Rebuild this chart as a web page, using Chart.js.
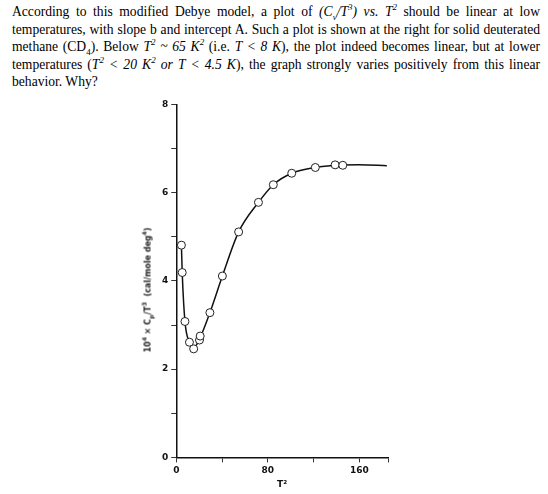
<!DOCTYPE html>
<html><head><meta charset="utf-8">
<script src="https://cdn.jsdelivr.net/npm/chart.js@4"></script>
<style>
body{margin:0;background:#fff;width:548px;height:494px;overflow:hidden;position:relative}
#txt{position:absolute;left:12px;top:3px;width:528px;font-family:"Liberation Serif",serif;font-size:13.6px;line-height:17.6px;text-align:justify;color:#000}
#txt sub,#txt sup{font-size:9px;line-height:0}
#wrap{position:absolute;left:100px;top:96px;width:300px;height:398px}
#ylab{position:absolute;left:148px;top:290px;transform:translate(-50%,-50%) rotate(-90deg);font:bold 8px "DejaVu Sans",sans-serif;white-space:nowrap;color:#222}
#ylab sub,#ylab sup{font-size:6px;line-height:0}
</style></head><body>
<div id="txt">According to this modified Debye model, a plot of <i>(C<sub>v</sub>/T<sup>3</sup>) vs. T<sup>2</sup></i> should be linear at low temperatures, with slope b and intercept A. Such a plot is shown at the right for solid deuterated methane (CD<sub>4</sub>). Below <i>T<sup>2</sup> ~ 65 K<sup>2</sup></i> (i.e. <i>T &lt; 8 K</i>), the plot indeed becomes linear, but at lower temperatures (<i>T<sup>2</sup> &lt; 20 K<sup>2</sup> or T &lt; 4.5 K</i>), the graph strongly varies positively from this linear behavior. Why?</div>
<div id="wrap"><canvas id="c"></canvas></div>
<div id="ylab">10<sup>4</sup> × C<sub>p</sub>/T<sup>3</sup> &nbsp;(cal/mole deg<sup>4</sup>)</div>
<script>
const tSquared=[4.5,5.2,7.6,11.5,15.2,20.3,20.9,29.4,40.3,54.5,71.8,84.8,100.9,121.5,138.8,145.5];
const cpOverT3=[4.81,4.19,3.08,2.61,2.46,2.66,2.75,3.28,4.11,5.11,5.78,6.18,6.44,6.57,6.63,6.62];
const curveX=[4.5,5.2,7.6,11.5,15.2,20.6,29.4,40.3,54.5,71.8,84.8,100.9,121.5,140,160,184];
const curveY=[4.81,4.19,3.08,2.61,2.48,2.70,3.28,4.11,5.11,5.78,6.18,6.44,6.57,6.62,6.63,6.61];
const xLabels=[0,80,160], yLabels=[0,2,4,6,8];
new Chart(document.getElementById('c'),{
 type:'scatter',
 data:{datasets:[
  {data:tSquared.map((x,i)=>({x,y:cpOverT3[i]})),pointRadius:4,pointBackgroundColor:'#fff',pointBorderColor:'#222',pointBorderWidth:1,order:1},
  {data:curveX.map((x,i)=>({x,y:curveY[i]})),showLine:true,borderColor:'#111',borderWidth:1.5,pointRadius:0,cubicInterpolationMode:'monotone',order:2}
 ]},
 options:{responsive:true,maintainAspectRatio:false,animation:false,
  layout:{padding:{left:59,right:12,top:6,bottom:0}},
  plugins:{legend:{display:false},tooltip:{enabled:false}},
  scales:{
   x:{type:'linear',min:0,max:185,border:{color:'#111',width:1.5},
      grid:{drawOnChartArea:false,tickLength:5,color:'#333'},
      ticks:{stepSize:40,autoSkip:false,maxRotation:0,color:'#111',font:{size:9,weight:'bold',family:'DejaVu Sans'},callback:v=>xLabels.includes(v)?String(v):''},
      title:{display:true,text:'T²',color:'#111',font:{size:9,weight:'bold',family:'DejaVu Sans'},padding:{top:0}}},
   y:{min:0,max:8,border:{color:'#111',width:1.5},
      grid:{drawOnChartArea:false,tickLength:5,color:'#333'},
      ticks:{stepSize:1,autoSkip:false,color:'#111',font:{size:9,weight:'bold',family:'DejaVu Sans'},callback:v=>yLabels.includes(v)?String(v):''}}
  }}
});
</script></body></html>
